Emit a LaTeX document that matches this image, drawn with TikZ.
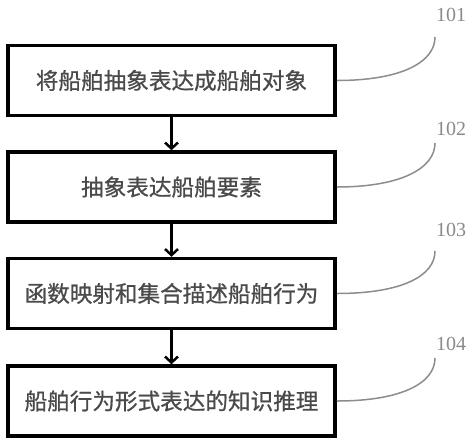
\documentclass[tikz,border=0pt]{standalone}
\usepackage{fontspec}
\setmainfont{Liberation Serif}
\newfontfamily\cjk[FakeBold=0.8]{Noto Sans CJK SC}
\usetikzlibrary{arrows.meta}
\definecolor{txtgray}{HTML}{4A4A4A}
\definecolor{lblgray}{HTML}{8A8A8A}
\definecolor{leadgray}{HTML}{8C8C8C}
\tikzset{
  stepbox/.style={draw=black, line width=3.5pt, minimum width=327pt, minimum height=70pt, inner sep=0pt,
    text=txtgray, font=\cjk\fontsize{22.6}{26}\selectfont},
  flowarrow/.style={line width=3pt, -{Straight Barb[length=6pt,width=13pt,line width=2.5pt]}},
  leader/.style={draw=leadgray, line width=1.5pt},
  reflabel/.style={text=lblgray, font=\fontsize{20}{22}\selectfont, inner sep=0pt}
}
\begin{document}
\begin{tikzpicture}[x=1pt,y=-1pt]
\useasboundingbox (0,0) rectangle (474,445);
\node[stepbox] (b1) at (171.5,80.5) {将船舶抽象表达成船舶对象};
\node[stepbox] (b2) at (171.5,187) {抽象表达船舶要素};
\node[stepbox] (b3) at (171.5,293.5) {函数映射和集合描述船舶行为};
\node[stepbox] (b4) at (171.5,401) {船舶行为形式表达的知识推理};
\draw[flowarrow] (b1.south) -- (b2.north);
\draw[flowarrow] (b2.south) -- (b3.north);
\draw[flowarrow] (b3.south) -- (b4.north);
\node[reflabel] (l1) at (451,15) {101};
\node[reflabel] (l2) at (451,129) {102};
\node[reflabel] (l3) at (451,230) {103};
\node[reflabel] (l4) at (451,344) {104};
\coordinate (t1) at (435,37);
\coordinate (t2) at (435,143);
\coordinate (t3) at (435,251);
\coordinate (t4) at (435,358);
\draw[leader] (b1.east) .. controls +(65,0) and +(0,25) .. (t1);
\draw[leader] (b2.east) .. controls +(65,0) and +(0,25) .. (t2);
\draw[leader] (b3.east) .. controls +(65,0) and +(0,25) .. (t3);
\draw[leader] (b4.east) .. controls +(65,0) and +(0,25) .. (t4);
\end{tikzpicture}
\end{document}
